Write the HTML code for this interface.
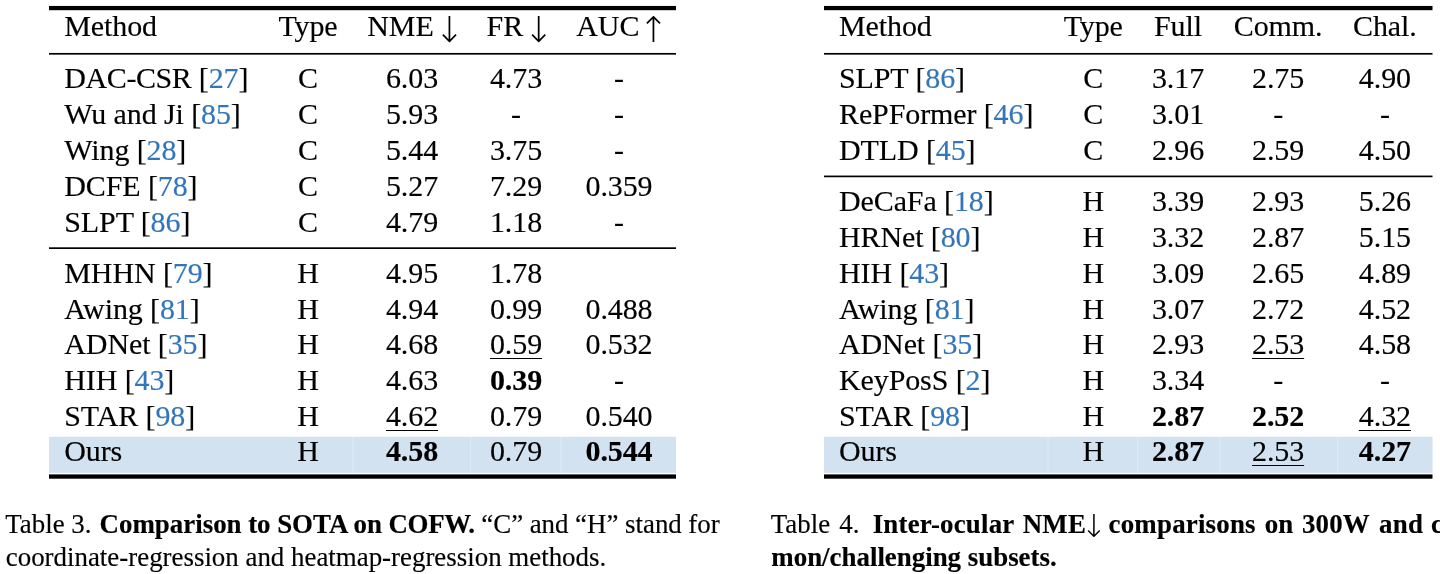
<!DOCTYPE html>
<html lang="en"><head><meta charset="utf-8"><title>Tables</title>
<style>
html,body{margin:0;padding:0;background:#fff;}
body{width:1440px;height:574px;position:relative;overflow:hidden;font-family:"Liberation Serif","DejaVu Serif",serif;color:#000;}
.t{position:absolute;white-space:nowrap;line-height:1;-webkit-text-stroke:0.15px currentColor;letter-spacing:-0.11px;}
.cp{letter-spacing:0;}
.r{position:absolute;}
.a{font-family:"DejaVu Sans Light","DejaVu Sans",sans-serif;font-weight:200;-webkit-text-stroke:0;}
.c{color:#3275ba;}
.u{text-decoration:underline;text-decoration-thickness:1.25px;text-underline-offset:4px;}
b{font-weight:bold;}
</style></head><body>
<svg class="r" width="1440" height="574" viewBox="0 0 1440 574" style="left:0;top:0">
<rect x="49" y="436.8" width="627" height="36.00" fill="#d2e2f0"/>
<rect x="352.6" y="436.8" width="0.8" height="36.00" fill="#e3eef8"/>
<rect x="470.40000000000003" y="436.8" width="0.8" height="36.00" fill="#e3eef8"/>
<rect x="560.6" y="436.8" width="0.8" height="36.00" fill="#e3eef8"/>
<rect x="49" y="5.95" width="627" height="4.25" fill="#000"/>
<rect x="49" y="52.95" width="627" height="1.7" fill="#000"/>
<rect x="49" y="247.3" width="627" height="1.7" fill="#000"/>
<rect x="49" y="474.4" width="627" height="4.3" fill="#000"/>
<rect x="824" y="436.8" width="608.5" height="36.00" fill="#d2e2f0"/>
<rect x="1047.6" y="436.8" width="0.8" height="36.00" fill="#e3eef8"/>
<rect x="1137.3999999999999" y="436.8" width="0.8" height="36.00" fill="#e3eef8"/>
<rect x="1219.6" y="436.8" width="0.8" height="36.00" fill="#e3eef8"/>
<rect x="1337.3999999999999" y="436.8" width="0.8" height="36.00" fill="#e3eef8"/>
<rect x="824" y="5.95" width="608.5" height="4.25" fill="#000"/>
<rect x="824" y="52.95" width="608.5" height="1.7" fill="#000"/>
<rect x="824" y="175.55" width="608.5" height="1.7" fill="#000"/>
<rect x="824" y="474.4" width="608.5" height="4.3" fill="#000"/>
</svg>
<div class="t " style="top:11.48px;font-size:30.0px;left:64.30px;">Method</div>
<div class="t " style="top:11.48px;font-size:30.0px;left:108.00px;width:400px;text-align:center;">Type</div>
<div class="t " style="top:11.48px;font-size:30.0px;left:367.30px;">NME</div>
<div class="t a" style="top:12.43px;left:419.30px;width:60px;text-align:center;font-size:35.66px">↓</div>
<div class="t " style="top:11.48px;font-size:30.0px;left:486.60px;">FR</div>
<div class="t a" style="top:12.43px;left:508.75px;width:60px;text-align:center;font-size:35.66px">↓</div>
<div class="t " style="top:11.48px;font-size:30.0px;left:576.30px;">AUC</div>
<div class="t a" style="top:12.43px;left:623.50px;width:60px;text-align:center;font-size:35.66px">↑</div>
<div class="t " style="top:62.58px;font-size:30.0px;left:64.30px;"><span style="letter-spacing:-0.42px">DAC-CSR</span> [<span class="c">27</span>]</div>
<div class="t " style="top:62.58px;font-size:30.0px;left:108.00px;width:400px;text-align:center;">C</div>
<div class="t " style="top:62.58px;font-size:30.0px;left:212.00px;width:400px;text-align:center;">6.03</div>
<div class="t " style="top:62.58px;font-size:30.0px;left:316.00px;width:400px;text-align:center;">4.73</div>
<div class="t " style="top:62.58px;font-size:30.0px;left:419.00px;width:400px;text-align:center;">-</div>
<div class="t " style="top:98.58px;font-size:30.0px;left:64.30px;">Wu and Ji [<span class="c">85</span>]</div>
<div class="t " style="top:98.58px;font-size:30.0px;left:108.00px;width:400px;text-align:center;">C</div>
<div class="t " style="top:98.58px;font-size:30.0px;left:212.00px;width:400px;text-align:center;">5.93</div>
<div class="t " style="top:98.58px;font-size:30.0px;left:316.00px;width:400px;text-align:center;">-</div>
<div class="t " style="top:98.58px;font-size:30.0px;left:419.00px;width:400px;text-align:center;">-</div>
<div class="t " style="top:134.57px;font-size:30.0px;left:64.30px;">Wing [<span class="c">28</span>]</div>
<div class="t " style="top:134.57px;font-size:30.0px;left:108.00px;width:400px;text-align:center;">C</div>
<div class="t " style="top:134.57px;font-size:30.0px;left:212.00px;width:400px;text-align:center;">5.44</div>
<div class="t " style="top:134.57px;font-size:30.0px;left:316.00px;width:400px;text-align:center;">3.75</div>
<div class="t " style="top:134.57px;font-size:30.0px;left:419.00px;width:400px;text-align:center;">-</div>
<div class="t " style="top:170.57px;font-size:30.0px;left:64.30px;">DCFE [<span class="c">78</span>]</div>
<div class="t " style="top:170.57px;font-size:30.0px;left:108.00px;width:400px;text-align:center;">C</div>
<div class="t " style="top:170.57px;font-size:30.0px;left:212.00px;width:400px;text-align:center;">5.27</div>
<div class="t " style="top:170.57px;font-size:30.0px;left:316.00px;width:400px;text-align:center;">7.29</div>
<div class="t " style="top:170.57px;font-size:30.0px;left:419.00px;width:400px;text-align:center;">0.359</div>
<div class="t " style="top:206.57px;font-size:30.0px;left:64.30px;">SLPT [<span class="c">86</span>]</div>
<div class="t " style="top:206.57px;font-size:30.0px;left:108.00px;width:400px;text-align:center;">C</div>
<div class="t " style="top:206.57px;font-size:30.0px;left:212.00px;width:400px;text-align:center;">4.79</div>
<div class="t " style="top:206.57px;font-size:30.0px;left:316.00px;width:400px;text-align:center;">1.18</div>
<div class="t " style="top:206.57px;font-size:30.0px;left:419.00px;width:400px;text-align:center;">-</div>
<div class="t " style="top:257.52px;font-size:30.0px;left:64.30px;">MHHN [<span class="c">79</span>]</div>
<div class="t " style="top:257.52px;font-size:30.0px;left:108.00px;width:400px;text-align:center;">H</div>
<div class="t " style="top:257.52px;font-size:30.0px;left:212.00px;width:400px;text-align:center;">4.95</div>
<div class="t " style="top:257.52px;font-size:30.0px;left:316.00px;width:400px;text-align:center;">1.78</div>
<div class="t " style="top:293.52px;font-size:30.0px;left:64.30px;">Awing [<span class="c">81</span>]</div>
<div class="t " style="top:293.52px;font-size:30.0px;left:108.00px;width:400px;text-align:center;">H</div>
<div class="t " style="top:293.52px;font-size:30.0px;left:212.00px;width:400px;text-align:center;">4.94</div>
<div class="t " style="top:293.52px;font-size:30.0px;left:316.00px;width:400px;text-align:center;">0.99</div>
<div class="t " style="top:293.52px;font-size:30.0px;left:419.00px;width:400px;text-align:center;">0.488</div>
<div class="t " style="top:329.43px;font-size:30.0px;left:64.30px;">ADNet [<span class="c">35</span>]</div>
<div class="t " style="top:329.43px;font-size:30.0px;left:108.00px;width:400px;text-align:center;">H</div>
<div class="t " style="top:329.43px;font-size:30.0px;left:212.00px;width:400px;text-align:center;">4.68</div>
<div class="t " style="top:329.43px;font-size:30.0px;left:316.00px;width:400px;text-align:center;"><span class="u">0.59</span></div>
<div class="t " style="top:329.43px;font-size:30.0px;left:419.00px;width:400px;text-align:center;">0.532</div>
<div class="t " style="top:364.93px;font-size:30.0px;left:64.30px;">HIH [<span class="c">43</span>]</div>
<div class="t " style="top:364.93px;font-size:30.0px;left:108.00px;width:400px;text-align:center;">H</div>
<div class="t " style="top:364.93px;font-size:30.0px;left:212.00px;width:400px;text-align:center;">4.63</div>
<div class="t " style="top:364.93px;font-size:30.0px;left:316.00px;width:400px;text-align:center;"><b>0.39</b></div>
<div class="t " style="top:364.93px;font-size:30.0px;left:419.00px;width:400px;text-align:center;">-</div>
<div class="t " style="top:400.57px;font-size:30.0px;left:64.30px;">STAR [<span class="c">98</span>]</div>
<div class="t " style="top:400.57px;font-size:30.0px;left:108.00px;width:400px;text-align:center;">H</div>
<div class="t " style="top:400.57px;font-size:30.0px;left:212.00px;width:400px;text-align:center;"><span class="u">4.62</span></div>
<div class="t " style="top:400.57px;font-size:30.0px;left:316.00px;width:400px;text-align:center;">0.79</div>
<div class="t " style="top:400.57px;font-size:30.0px;left:419.00px;width:400px;text-align:center;">0.540</div>
<div class="t " style="top:436.43px;font-size:30.0px;left:64.30px;">Ours</div>
<div class="t " style="top:436.43px;font-size:30.0px;left:108.00px;width:400px;text-align:center;">H</div>
<div class="t " style="top:436.43px;font-size:30.0px;left:212.00px;width:400px;text-align:center;"><b>4.58</b></div>
<div class="t " style="top:436.43px;font-size:30.0px;left:316.00px;width:400px;text-align:center;">0.79</div>
<div class="t " style="top:436.43px;font-size:30.0px;left:419.00px;width:400px;text-align:center;"><b>0.544</b></div>
<div class="t " style="top:11.48px;font-size:30.0px;left:839.00px;">Method</div>
<div class="t " style="top:11.48px;font-size:30.0px;left:893.20px;width:400px;text-align:center;">Type</div>
<div class="t " style="top:11.48px;font-size:30.0px;left:978.00px;width:400px;text-align:center;">Full</div>
<div class="t " style="top:11.48px;font-size:30.0px;left:1078.10px;width:400px;text-align:center;">Comm.</div>
<div class="t " style="top:11.48px;font-size:30.0px;left:1184.90px;width:400px;text-align:center;">Chal.</div>
<div class="t " style="top:62.58px;font-size:30.0px;left:839.00px;">SLPT [<span class="c">86</span>]</div>
<div class="t " style="top:62.58px;font-size:30.0px;left:893.20px;width:400px;text-align:center;">C</div>
<div class="t " style="top:62.58px;font-size:30.0px;left:978.00px;width:400px;text-align:center;">3.17</div>
<div class="t " style="top:62.58px;font-size:30.0px;left:1078.10px;width:400px;text-align:center;">2.75</div>
<div class="t " style="top:62.58px;font-size:30.0px;left:1184.90px;width:400px;text-align:center;">4.90</div>
<div class="t " style="top:98.58px;font-size:30.0px;left:839.00px;">RePFormer [<span class="c">46</span>]</div>
<div class="t " style="top:98.58px;font-size:30.0px;left:893.20px;width:400px;text-align:center;">C</div>
<div class="t " style="top:98.58px;font-size:30.0px;left:978.00px;width:400px;text-align:center;">3.01</div>
<div class="t " style="top:98.58px;font-size:30.0px;left:1078.10px;width:400px;text-align:center;">-</div>
<div class="t " style="top:98.58px;font-size:30.0px;left:1184.90px;width:400px;text-align:center;">-</div>
<div class="t " style="top:134.57px;font-size:30.0px;left:839.00px;">DTLD [<span class="c">45</span>]</div>
<div class="t " style="top:134.57px;font-size:30.0px;left:893.20px;width:400px;text-align:center;">C</div>
<div class="t " style="top:134.57px;font-size:30.0px;left:978.00px;width:400px;text-align:center;">2.96</div>
<div class="t " style="top:134.57px;font-size:30.0px;left:1078.10px;width:400px;text-align:center;">2.59</div>
<div class="t " style="top:134.57px;font-size:30.0px;left:1184.90px;width:400px;text-align:center;">4.50</div>
<div class="t " style="top:185.57px;font-size:30.0px;left:839.00px;">DeCaFa [<span class="c">18</span>]</div>
<div class="t " style="top:185.57px;font-size:30.0px;left:893.20px;width:400px;text-align:center;">H</div>
<div class="t " style="top:185.57px;font-size:30.0px;left:978.00px;width:400px;text-align:center;">3.39</div>
<div class="t " style="top:185.57px;font-size:30.0px;left:1078.10px;width:400px;text-align:center;">2.93</div>
<div class="t " style="top:185.57px;font-size:30.0px;left:1184.90px;width:400px;text-align:center;">5.26</div>
<div class="t " style="top:221.57px;font-size:30.0px;left:839.00px;">HRNet [<span class="c">80</span>]</div>
<div class="t " style="top:221.57px;font-size:30.0px;left:893.20px;width:400px;text-align:center;">H</div>
<div class="t " style="top:221.57px;font-size:30.0px;left:978.00px;width:400px;text-align:center;">3.32</div>
<div class="t " style="top:221.57px;font-size:30.0px;left:1078.10px;width:400px;text-align:center;">2.87</div>
<div class="t " style="top:221.57px;font-size:30.0px;left:1184.90px;width:400px;text-align:center;">5.15</div>
<div class="t " style="top:257.52px;font-size:30.0px;left:839.00px;">HIH [<span class="c">43</span>]</div>
<div class="t " style="top:257.52px;font-size:30.0px;left:893.20px;width:400px;text-align:center;">H</div>
<div class="t " style="top:257.52px;font-size:30.0px;left:978.00px;width:400px;text-align:center;">3.09</div>
<div class="t " style="top:257.52px;font-size:30.0px;left:1078.10px;width:400px;text-align:center;">2.65</div>
<div class="t " style="top:257.52px;font-size:30.0px;left:1184.90px;width:400px;text-align:center;">4.89</div>
<div class="t " style="top:293.52px;font-size:30.0px;left:839.00px;">Awing [<span class="c">81</span>]</div>
<div class="t " style="top:293.52px;font-size:30.0px;left:893.20px;width:400px;text-align:center;">H</div>
<div class="t " style="top:293.52px;font-size:30.0px;left:978.00px;width:400px;text-align:center;">3.07</div>
<div class="t " style="top:293.52px;font-size:30.0px;left:1078.10px;width:400px;text-align:center;">2.72</div>
<div class="t " style="top:293.52px;font-size:30.0px;left:1184.90px;width:400px;text-align:center;">4.52</div>
<div class="t " style="top:329.43px;font-size:30.0px;left:839.00px;">ADNet [<span class="c">35</span>]</div>
<div class="t " style="top:329.43px;font-size:30.0px;left:893.20px;width:400px;text-align:center;">H</div>
<div class="t " style="top:329.43px;font-size:30.0px;left:978.00px;width:400px;text-align:center;">2.93</div>
<div class="t " style="top:329.43px;font-size:30.0px;left:1078.10px;width:400px;text-align:center;"><span class="u">2.53</span></div>
<div class="t " style="top:329.43px;font-size:30.0px;left:1184.90px;width:400px;text-align:center;">4.58</div>
<div class="t " style="top:364.93px;font-size:30.0px;left:839.00px;">KeyPosS [<span class="c">2</span>]</div>
<div class="t " style="top:364.93px;font-size:30.0px;left:893.20px;width:400px;text-align:center;">H</div>
<div class="t " style="top:364.93px;font-size:30.0px;left:978.00px;width:400px;text-align:center;">3.34</div>
<div class="t " style="top:364.93px;font-size:30.0px;left:1078.10px;width:400px;text-align:center;">-</div>
<div class="t " style="top:364.93px;font-size:30.0px;left:1184.90px;width:400px;text-align:center;">-</div>
<div class="t " style="top:400.57px;font-size:30.0px;left:839.00px;">STAR [<span class="c">98</span>]</div>
<div class="t " style="top:400.57px;font-size:30.0px;left:893.20px;width:400px;text-align:center;">H</div>
<div class="t " style="top:400.57px;font-size:30.0px;left:978.00px;width:400px;text-align:center;"><b>2.87</b></div>
<div class="t " style="top:400.57px;font-size:30.0px;left:1078.10px;width:400px;text-align:center;"><b>2.52</b></div>
<div class="t " style="top:400.57px;font-size:30.0px;left:1184.90px;width:400px;text-align:center;"><span class="u">4.32</span></div>
<div class="t " style="top:436.43px;font-size:30.0px;left:839.00px;">Ours</div>
<div class="t " style="top:436.43px;font-size:30.0px;left:893.20px;width:400px;text-align:center;">H</div>
<div class="t " style="top:436.43px;font-size:30.0px;left:978.00px;width:400px;text-align:center;"><b>2.87</b></div>
<div class="t " style="top:436.43px;font-size:30.0px;left:1078.10px;width:400px;text-align:center;"><span class="u">2.53</span></div>
<div class="t " style="top:436.43px;font-size:30.0px;left:1184.90px;width:400px;text-align:center;"><b>4.27</b></div>
<div class="t  cp" style="top:511.07px;font-size:26.9px;left:5.30px;"><span style="word-spacing:-0.12px">Table 3. <b style="margin-left:1.6px">Comparison to SOTA on <span style="letter-spacing:-0.35px">COFW.</span></b> “C” and “H” stand for</span></div>
<div class="t  cp" style="top:543.87px;font-size:26.9px;left:5.80px;">coordinate-regression and heatmap-regression methods.</div>
<div class="t  cp" style="top:511.07px;font-size:26.9px;left:770.80px;">Table</div>
<div class="t  cp" style="top:511.07px;font-size:26.9px;left:839.20px;">4.</div>
<div class="t  cp" style="top:511.07px;font-size:26.9px;left:872.70px;"><b style="letter-spacing:.2px">Inter-ocular</b></div>
<div class="t  cp" style="top:511.07px;font-size:26.9px;left:1022.70px;"><b style="letter-spacing:.2px">NME</b></div>
<div class="t  cp" style="top:511.07px;font-size:26.9px;left:1108.60px;"><b style="letter-spacing:.2px">comparisons</b></div>
<div class="t  cp" style="top:511.07px;font-size:26.9px;left:1264.70px;"><b style="letter-spacing:.2px">on</b></div>
<div class="t  cp" style="top:511.07px;font-size:26.9px;left:1301.90px;"><b style="letter-spacing:.2px">300W</b></div>
<div class="t  cp" style="top:511.07px;font-size:26.9px;left:1379.10px;"><b style="letter-spacing:.2px">and</b></div>
<div class="t  cp" style="top:511.07px;font-size:26.9px;left:1431.10px;"><b style="letter-spacing:.2px">com-</b></div>
<div class="t a" style="top:511.04px;left:1063.80px;width:60px;text-align:center;font-size:31.4px">↓</div>
<div class="t  cp" style="top:543.87px;font-size:26.9px;left:771.30px;"><b>mon/challenging subsets.</b></div>
</body></html>
